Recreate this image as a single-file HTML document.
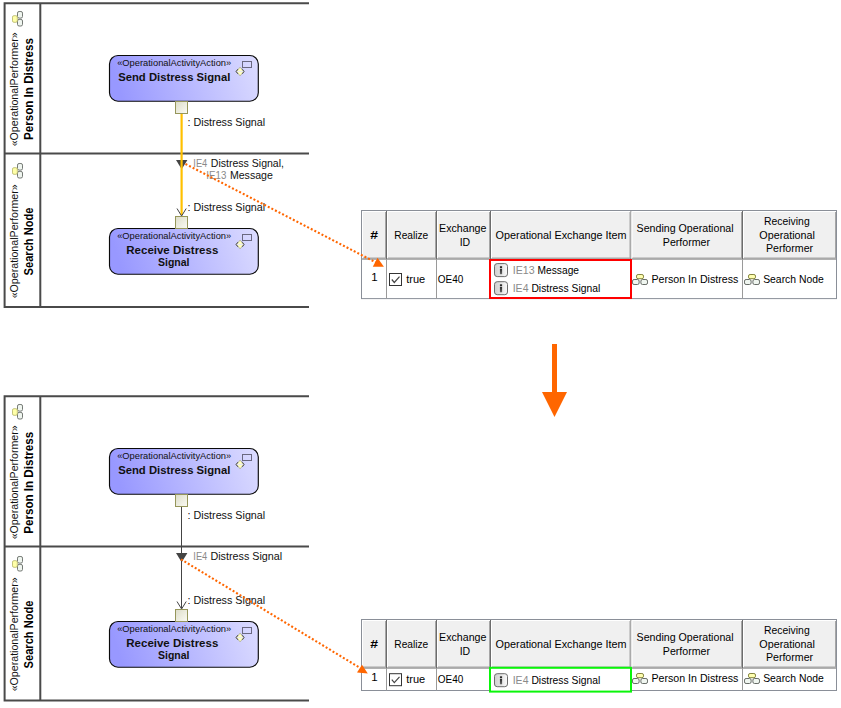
<!DOCTYPE html>
<html><head><meta charset="utf-8"><title>Diagram</title>
<style>
html,body{margin:0;padding:0;background:#fff;}
body{width:841px;height:708px;position:relative;overflow:hidden;font-family:"Liberation Sans",sans-serif;}
</style></head><body>
<svg width="841" height="708" viewBox="0 0 841 708" style="position:absolute;left:0;top:0;font-family:'Liberation Sans',sans-serif"><defs>
<linearGradient id="ag" x1="0" y1="0.1" x2="1" y2="0"><stop offset="0" stop-color="#9898ff"/><stop offset="1" stop-color="#dcdcff"/></linearGradient>
<linearGradient id="pg" x1="0" y1="0" x2="1" y2="1"><stop offset="0" stop-color="#dcdcc8"/><stop offset="1" stop-color="#fbfbf4"/></linearGradient>
<linearGradient id="ig" x1="0" y1="0" x2="1" y2="0"><stop offset="0" stop-color="#cfcfcf"/><stop offset="1" stop-color="#fafafa"/></linearGradient>
<linearGradient id="sg" x1="0" y1="0" x2="0" y2="1"><stop offset="0" stop-color="#2a2a2a"/><stop offset="1" stop-color="#6a6a6a"/></linearGradient>
</defs><path d="M309 3.3 H4.6 V307 H309 M40.3 3.3 V307 M4.6 153.4 H309" fill="none" stroke="#4a4a4a" stroke-width="2"/><rect x="17.5" y="11.5" width="5" height="6.6" rx="1.6" fill="#f0f6f0" stroke="#747974" stroke-width="1"/><rect x="17.5" y="19.4" width="5" height="6.6" rx="1.6" fill="#f0f6f0" stroke="#747974" stroke-width="1"/><rect x="12.5" y="15.7" width="4.8" height="6.6" rx="1.4" fill="#ffffa8" stroke="#b4b464" stroke-width="0.8"/><rect x="17.5" y="163.5" width="5" height="6.6" rx="1.6" fill="#f0f6f0" stroke="#747974" stroke-width="1"/><rect x="17.5" y="171.4" width="5" height="6.6" rx="1.6" fill="#f0f6f0" stroke="#747974" stroke-width="1"/><rect x="12.5" y="167.7" width="4.8" height="6.6" rx="1.4" fill="#ffffa8" stroke="#b4b464" stroke-width="0.8"/><text transform="translate(17.7 146.3) rotate(-90)" font-size="11px" textLength="114" lengthAdjust="spacingAndGlyphs" fill="#111">«OperationalPerformer»</text><text transform="translate(32.8 140) rotate(-90)" font-size="12px" font-weight="bold" textLength="102" lengthAdjust="spacingAndGlyphs" fill="#000">Person In Distress</text><text transform="translate(17.7 298.3) rotate(-90)" font-size="11px" textLength="114" lengthAdjust="spacingAndGlyphs" fill="#111">«OperationalPerformer»</text><text transform="translate(32.8 275.4) rotate(-90)" font-size="12px" font-weight="bold" textLength="67.8" lengthAdjust="spacingAndGlyphs" fill="#000">Search Node</text><path d="M176 160 H187.4 L181.7 169.3 Z" fill="#444"/><path d="M181.6 113 V215" stroke="#ffc000" stroke-width="2.2"/><path d="M177 208.5 L181.6 216 L186.2 208.5" fill="none" stroke="#444" stroke-width="1"/><rect x="109.5" y="55.5" width="148.8" height="45.7" rx="8.5" fill="url(#ag)" stroke="#0a0a0a" stroke-width="1.15"/><text x="117.2" y="66.3" font-size="9px" textLength="114" lengthAdjust="spacingAndGlyphs" fill="#111">«OperationalActivityAction»</text><text x="118.2" y="80.6" font-size="11px" font-weight="bold" textLength="112.2" lengthAdjust="spacingAndGlyphs" fill="#111">Send Distress Signal</text><rect x="242.5" y="61.5" width="9" height="6" fill="none" stroke="#6a6880" stroke-width="1"/><path d="M240.1 67.2 L243.79999999999998 71.5 L240.1 75.8 L236.29999999999998 71.5 Z" fill="#ffffc0" stroke="#a0a07c" stroke-width="0.7"/><path d="M236.7 71.5 H243.5" stroke="#e8e8f2" stroke-width="1.1"/><path d="M237.79999999999998 69.2 L236.1 71.5 L237.79999999999998 73.8 M242.4 69.2 L244.0 71.5 L242.4 73.8" fill="none" stroke="#4a4a50" stroke-width="1"/><path d="M241.7 68.5 L242.8 67.5" stroke="#6a6880" stroke-width="0.8"/><rect x="109.5" y="228.5" width="148.8" height="45.7" rx="8.5" fill="url(#ag)" stroke="#0a0a0a" stroke-width="1.15"/><text x="117.2" y="239.3" font-size="9px" textLength="114" lengthAdjust="spacingAndGlyphs" fill="#111">«OperationalActivityAction»</text><text x="126.3" y="253.6" font-size="11px" font-weight="bold" textLength="92" lengthAdjust="spacingAndGlyphs" fill="#111">Receive Distress</text><text x="158" y="265.7" font-size="11px" font-weight="bold" textLength="31.5" lengthAdjust="spacingAndGlyphs" fill="#111">Signal</text><rect x="242.5" y="234.5" width="9" height="6" fill="none" stroke="#6a6880" stroke-width="1"/><path d="M240.1 240.2 L243.79999999999998 244.5 L240.1 248.8 L236.29999999999998 244.5 Z" fill="#ffffc0" stroke="#a0a07c" stroke-width="0.7"/><path d="M236.7 244.5 H243.5" stroke="#e8e8f2" stroke-width="1.1"/><path d="M237.79999999999998 242.2 L236.1 244.5 L237.79999999999998 246.8 M242.4 242.2 L244.0 244.5 L242.4 246.8" fill="none" stroke="#4a4a50" stroke-width="1"/><path d="M241.7 241.5 L242.8 240.5" stroke="#6a6880" stroke-width="0.8"/><rect x="175.5" y="101.5" width="12" height="12" fill="url(#pg)" stroke="#96965a" stroke-width="1"/><rect x="175.5" y="216.5" width="12" height="12" fill="url(#pg)" stroke="#96965a" stroke-width="1"/><text x="187.6" y="125.8" font-size="11px" textLength="77.6" lengthAdjust="spacingAndGlyphs" fill="#111">: Distress Signal</text><text x="187.6" y="210.6" font-size="11px" textLength="77.6" lengthAdjust="spacingAndGlyphs" fill="#111">: Distress Signal</text><text x="193.3" y="166.9" font-size="11px" textLength="14" lengthAdjust="spacingAndGlyphs" fill="#8a8a8a">IE4</text><text x="210.8" y="166.9" font-size="11px" textLength="73.2" lengthAdjust="spacingAndGlyphs" fill="#111">Distress Signal,</text><text x="206.3" y="178.7" font-size="11px" textLength="20" lengthAdjust="spacingAndGlyphs" fill="#8a8a8a">IE13</text><text x="229.9" y="178.7" font-size="11px" textLength="43" lengthAdjust="spacingAndGlyphs" fill="#111">Message</text><path d="M309 396.3 H4.6 V700.5 H309 M40.3 396.3 V700.5 M4.6 546.4 H309" fill="none" stroke="#4a4a4a" stroke-width="2"/><rect x="17.5" y="404.5" width="5" height="6.6" rx="1.6" fill="#f0f6f0" stroke="#747974" stroke-width="1"/><rect x="17.5" y="412.4" width="5" height="6.6" rx="1.6" fill="#f0f6f0" stroke="#747974" stroke-width="1"/><rect x="12.5" y="408.7" width="4.8" height="6.6" rx="1.4" fill="#ffffa8" stroke="#b4b464" stroke-width="0.8"/><rect x="17.5" y="556.5" width="5" height="6.6" rx="1.6" fill="#f0f6f0" stroke="#747974" stroke-width="1"/><rect x="17.5" y="564.4" width="5" height="6.6" rx="1.6" fill="#f0f6f0" stroke="#747974" stroke-width="1"/><rect x="12.5" y="560.7" width="4.8" height="6.6" rx="1.4" fill="#ffffa8" stroke="#b4b464" stroke-width="0.8"/><text transform="translate(17.7 539.3) rotate(-90)" font-size="11px" textLength="114" lengthAdjust="spacingAndGlyphs" fill="#111">«OperationalPerformer»</text><text transform="translate(32.8 533.8) rotate(-90)" font-size="12px" font-weight="bold" textLength="102" lengthAdjust="spacingAndGlyphs" fill="#000">Person In Distress</text><text transform="translate(17.7 691.3) rotate(-90)" font-size="11px" textLength="114" lengthAdjust="spacingAndGlyphs" fill="#111">«OperationalPerformer»</text><text transform="translate(32.8 668.4) rotate(-90)" font-size="12px" font-weight="bold" textLength="67.8" lengthAdjust="spacingAndGlyphs" fill="#000">Search Node</text><path d="M176 553 H187.4 L181.7 562.3 Z" fill="#444"/><path d="M181.5 506 V608" stroke="#444" stroke-width="1"/><path d="M177 601.5 L181.6 609 L186.2 601.5" fill="none" stroke="#444" stroke-width="1"/><rect x="109.5" y="448.5" width="148.8" height="45.7" rx="8.5" fill="url(#ag)" stroke="#0a0a0a" stroke-width="1.15"/><text x="117.2" y="459.3" font-size="9px" textLength="114" lengthAdjust="spacingAndGlyphs" fill="#111">«OperationalActivityAction»</text><text x="118.2" y="473.6" font-size="11px" font-weight="bold" textLength="112.2" lengthAdjust="spacingAndGlyphs" fill="#111">Send Distress Signal</text><rect x="242.5" y="454.5" width="9" height="6" fill="none" stroke="#6a6880" stroke-width="1"/><path d="M240.1 460.2 L243.79999999999998 464.5 L240.1 468.8 L236.29999999999998 464.5 Z" fill="#ffffc0" stroke="#a0a07c" stroke-width="0.7"/><path d="M236.7 464.5 H243.5" stroke="#e8e8f2" stroke-width="1.1"/><path d="M237.79999999999998 462.2 L236.1 464.5 L237.79999999999998 466.8 M242.4 462.2 L244.0 464.5 L242.4 466.8" fill="none" stroke="#4a4a50" stroke-width="1"/><path d="M241.7 461.5 L242.8 460.5" stroke="#6a6880" stroke-width="0.8"/><rect x="109.5" y="621.5" width="148.8" height="45.7" rx="8.5" fill="url(#ag)" stroke="#0a0a0a" stroke-width="1.15"/><text x="117.2" y="632.3" font-size="9px" textLength="114" lengthAdjust="spacingAndGlyphs" fill="#111">«OperationalActivityAction»</text><text x="126.3" y="646.6" font-size="11px" font-weight="bold" textLength="92" lengthAdjust="spacingAndGlyphs" fill="#111">Receive Distress</text><text x="158" y="658.7" font-size="11px" font-weight="bold" textLength="31.5" lengthAdjust="spacingAndGlyphs" fill="#111">Signal</text><rect x="242.5" y="627.5" width="9" height="6" fill="none" stroke="#6a6880" stroke-width="1"/><path d="M240.1 633.2 L243.79999999999998 637.5 L240.1 641.8 L236.29999999999998 637.5 Z" fill="#ffffc0" stroke="#a0a07c" stroke-width="0.7"/><path d="M236.7 637.5 H243.5" stroke="#e8e8f2" stroke-width="1.1"/><path d="M237.79999999999998 635.2 L236.1 637.5 L237.79999999999998 639.8 M242.4 635.2 L244.0 637.5 L242.4 639.8" fill="none" stroke="#4a4a50" stroke-width="1"/><path d="M241.7 634.5 L242.8 633.5" stroke="#6a6880" stroke-width="0.8"/><rect x="175.5" y="494.5" width="12" height="12" fill="url(#pg)" stroke="#96965a" stroke-width="1"/><rect x="175.5" y="609.5" width="12" height="12" fill="url(#pg)" stroke="#96965a" stroke-width="1"/><text x="187.6" y="518.8" font-size="11px" textLength="77.6" lengthAdjust="spacingAndGlyphs" fill="#111">: Distress Signal</text><text x="187.6" y="603.6" font-size="11px" textLength="77.6" lengthAdjust="spacingAndGlyphs" fill="#111">: Distress Signal</text><text x="193.3" y="559.9" font-size="11px" textLength="14" lengthAdjust="spacingAndGlyphs" fill="#8a8a8a">IE4</text><text x="210.4" y="559.9" font-size="11px" textLength="71.8" lengthAdjust="spacingAndGlyphs" fill="#111">Distress Signal</text><rect x="361.5" y="210.5" width="475.0" height="88.10000000000002" fill="#fff"/><rect x="362.0" y="211.0" width="25.0" height="48.5" fill="#f0f0f0"/><path d="M362.5 259.5 V211.5 H387.0" fill="none" stroke="#ffffff" stroke-width="1"/><path d="M386.5 211.0 V259.0 H362.0" fill="none" stroke="#6c6c6c" stroke-width="1"/><path d="M385.5 212.0 V258.0 H363.0" fill="none" stroke="#a6a6a6" stroke-width="1"/><rect x="387.0" y="211.0" width="50.0" height="48.5" fill="#f0f0f0"/><path d="M387.5 259.5 V211.5 H437.0" fill="none" stroke="#ffffff" stroke-width="1"/><path d="M436.5 211.0 V259.0 H387.0" fill="none" stroke="#6c6c6c" stroke-width="1"/><path d="M435.5 212.0 V258.0 H388.0" fill="none" stroke="#a6a6a6" stroke-width="1"/><rect x="437.0" y="211.0" width="54.0" height="48.5" fill="#f0f0f0"/><path d="M437.5 259.5 V211.5 H491.0" fill="none" stroke="#ffffff" stroke-width="1"/><path d="M490.5 211.0 V259.0 H437.0" fill="none" stroke="#6c6c6c" stroke-width="1"/><path d="M489.5 212.0 V258.0 H438.0" fill="none" stroke="#a6a6a6" stroke-width="1"/><rect x="491.0" y="211.0" width="140.5" height="48.5" fill="#f0f0f0"/><path d="M491.5 259.5 V211.5 H631.5" fill="none" stroke="#ffffff" stroke-width="1"/><path d="M631.0 211.0 V259.0 H491.0" fill="none" stroke="#6c6c6c" stroke-width="1"/><path d="M630.0 212.0 V258.0 H492.0" fill="none" stroke="#a6a6a6" stroke-width="1"/><rect x="631.5" y="211.0" width="111.5" height="48.5" fill="#f0f0f0"/><path d="M632.0 259.5 V211.5 H743.0" fill="none" stroke="#ffffff" stroke-width="1"/><path d="M742.5 211.0 V259.0 H631.5" fill="none" stroke="#6c6c6c" stroke-width="1"/><path d="M741.5 212.0 V258.0 H632.5" fill="none" stroke="#a6a6a6" stroke-width="1"/><rect x="743.0" y="211.0" width="94.0" height="48.5" fill="#f0f0f0"/><path d="M743.5 259.5 V211.5 H837.0" fill="none" stroke="#ffffff" stroke-width="1"/><path d="M836.5 211.0 V259.0 H743.0" fill="none" stroke="#6c6c6c" stroke-width="1"/><path d="M835.5 212.0 V258.0 H744.0" fill="none" stroke="#a6a6a6" stroke-width="1"/><rect x="361.5" y="210.5" width="475.0" height="88.10000000000002" fill="none" stroke="#8a8f98" stroke-width="1"/><path d="M386.5 259.0 V298.6" stroke="#9a9a9a" stroke-width="1"/><path d="M436.5 259.0 V298.6" stroke="#9a9a9a" stroke-width="1"/><path d="M490.5 259.0 V298.6" stroke="#9a9a9a" stroke-width="1"/><path d="M631 259.0 V298.6" stroke="#9a9a9a" stroke-width="1"/><path d="M742.5 259.0 V298.6" stroke="#9a9a9a" stroke-width="1"/><text x="370.2" y="238.75" font-size="11.5px" font-weight="bold" textLength="7.8" lengthAdjust="spacingAndGlyphs" fill="#000">#</text><text x="394.3" y="238.75" font-size="11.5px" fill="#000" text-anchor="start" textLength="34" lengthAdjust="spacingAndGlyphs">Realize</text><text x="439.1" y="231.75" font-size="11.5px" fill="#000" text-anchor="start" textLength="47.3" lengthAdjust="spacingAndGlyphs">Exchange</text><text x="459.7" y="245.75" font-size="11.5px" fill="#000" text-anchor="start" textLength="10.5" lengthAdjust="spacingAndGlyphs">ID</text><text x="495.6" y="239.05" font-size="11.5px" fill="#000" text-anchor="start" textLength="131" lengthAdjust="spacingAndGlyphs">Operational Exchange Item</text><text x="636.6" y="231.75" font-size="11.5px" fill="#000" text-anchor="start" textLength="97" lengthAdjust="spacingAndGlyphs">Sending Operational</text><text x="662.8" y="245.75" font-size="11.5px" fill="#000" text-anchor="start" textLength="47.2" lengthAdjust="spacingAndGlyphs">Performer</text><text x="764" y="225.05" font-size="11.5px" fill="#000" text-anchor="start" textLength="45.7" lengthAdjust="spacingAndGlyphs">Receiving</text><text x="759.3" y="238.75" font-size="11.5px" fill="#000" text-anchor="start" textLength="55.7" lengthAdjust="spacingAndGlyphs">Operational</text><text x="765.9" y="252.45" font-size="11.5px" fill="#000" text-anchor="start" textLength="47.2" lengthAdjust="spacingAndGlyphs">Performer</text><text x="371.2" y="281.0" font-size="11.5px" fill="#000" text-anchor="start">1</text><rect x="389.5" y="273.5" width="12" height="12" fill="#fff" stroke="#333" stroke-width="1"/><path d="M391.8 279.5 L394.3 282.5 L399.5 276.7" fill="none" stroke="#444" stroke-width="1.2"/><text x="406.2" y="283.0" font-size="11.5px" fill="#000" text-anchor="start" textLength="19" lengthAdjust="spacingAndGlyphs">true</text><text x="437.8" y="283.0" font-size="11.5px" fill="#000" text-anchor="start" textLength="25.5" lengthAdjust="spacingAndGlyphs">OE40</text><rect x="632.5" y="279.5" width="6.6" height="5" rx="1.6" fill="#f0f6f0" stroke="#666b66" stroke-width="1"/><rect x="640.9" y="279.5" width="6.6" height="5" rx="1.6" fill="#f0f6f0" stroke="#666b66" stroke-width="1"/><rect x="636.5" y="274.5" width="7" height="4.2" rx="1.6" fill="#ffffb0" stroke="#84843e" stroke-width="1"/><text x="651.5" y="283.0" font-size="11.5px" fill="#000" text-anchor="start" textLength="86.8" lengthAdjust="spacingAndGlyphs">Person In Distress</text><rect x="744.5" y="279.5" width="6.6" height="5" rx="1.6" fill="#f0f6f0" stroke="#666b66" stroke-width="1"/><rect x="752.9" y="279.5" width="6.6" height="5" rx="1.6" fill="#f0f6f0" stroke="#666b66" stroke-width="1"/><rect x="748.5" y="274.5" width="7" height="4.2" rx="1.6" fill="#ffffb0" stroke="#84843e" stroke-width="1"/><text x="763.2" y="283.0" font-size="11.5px" fill="#000" text-anchor="start" textLength="60.5" lengthAdjust="spacingAndGlyphs">Search Node</text><rect x="490" y="260.0" width="141" height="38" fill="#fff" stroke="#ff0000" stroke-width="2"/><rect x="494.5" y="263.6" width="13" height="13" rx="2.7" fill="url(#ig)" stroke="#6c6c6c" stroke-width="1"/><rect x="499.9" y="266.20000000000005" width="2.2" height="1.9" fill="#2a2a2a"/><rect x="499.9" y="268.8" width="2.2" height="5.4" fill="url(#sg)"/><text x="512.7" y="274.3" font-size="11.5px" fill="#8a8a8a" text-anchor="start" textLength="21.9" lengthAdjust="spacingAndGlyphs">IE13</text><text x="537.6" y="274.3" font-size="11.5px" fill="#000" text-anchor="start" textLength="41.4" lengthAdjust="spacingAndGlyphs">Message</text><rect x="494.5" y="281.7" width="13" height="13" rx="2.7" fill="url(#ig)" stroke="#6c6c6c" stroke-width="1"/><rect x="499.9" y="284.3" width="2.2" height="1.9" fill="#2a2a2a"/><rect x="499.9" y="286.9" width="2.2" height="5.4" fill="url(#sg)"/><text x="512.7" y="292.2" font-size="11.5px" fill="#8a8a8a" text-anchor="start" textLength="15.8" lengthAdjust="spacingAndGlyphs">IE4</text><text x="531.4" y="292.2" font-size="11.5px" fill="#000" text-anchor="start" textLength="68.8" lengthAdjust="spacingAndGlyphs">Distress Signal</text><rect x="361.5" y="619.5" width="475.0" height="71.0" fill="#fff"/><rect x="362.0" y="620.0" width="25.0" height="48.5" fill="#f0f0f0"/><path d="M362.5 668.5 V620.5 H387.0" fill="none" stroke="#ffffff" stroke-width="1"/><path d="M386.5 620.0 V668.0 H362.0" fill="none" stroke="#6c6c6c" stroke-width="1"/><path d="M385.5 621.0 V667.0 H363.0" fill="none" stroke="#a6a6a6" stroke-width="1"/><rect x="387.0" y="620.0" width="50.0" height="48.5" fill="#f0f0f0"/><path d="M387.5 668.5 V620.5 H437.0" fill="none" stroke="#ffffff" stroke-width="1"/><path d="M436.5 620.0 V668.0 H387.0" fill="none" stroke="#6c6c6c" stroke-width="1"/><path d="M435.5 621.0 V667.0 H388.0" fill="none" stroke="#a6a6a6" stroke-width="1"/><rect x="437.0" y="620.0" width="54.0" height="48.5" fill="#f0f0f0"/><path d="M437.5 668.5 V620.5 H491.0" fill="none" stroke="#ffffff" stroke-width="1"/><path d="M490.5 620.0 V668.0 H437.0" fill="none" stroke="#6c6c6c" stroke-width="1"/><path d="M489.5 621.0 V667.0 H438.0" fill="none" stroke="#a6a6a6" stroke-width="1"/><rect x="491.0" y="620.0" width="140.5" height="48.5" fill="#f0f0f0"/><path d="M491.5 668.5 V620.5 H631.5" fill="none" stroke="#ffffff" stroke-width="1"/><path d="M631.0 620.0 V668.0 H491.0" fill="none" stroke="#6c6c6c" stroke-width="1"/><path d="M630.0 621.0 V667.0 H492.0" fill="none" stroke="#a6a6a6" stroke-width="1"/><rect x="631.5" y="620.0" width="111.5" height="48.5" fill="#f0f0f0"/><path d="M632.0 668.5 V620.5 H743.0" fill="none" stroke="#ffffff" stroke-width="1"/><path d="M742.5 620.0 V668.0 H631.5" fill="none" stroke="#6c6c6c" stroke-width="1"/><path d="M741.5 621.0 V667.0 H632.5" fill="none" stroke="#a6a6a6" stroke-width="1"/><rect x="743.0" y="620.0" width="94.0" height="48.5" fill="#f0f0f0"/><path d="M743.5 668.5 V620.5 H837.0" fill="none" stroke="#ffffff" stroke-width="1"/><path d="M836.5 620.0 V668.0 H743.0" fill="none" stroke="#6c6c6c" stroke-width="1"/><path d="M835.5 621.0 V667.0 H744.0" fill="none" stroke="#a6a6a6" stroke-width="1"/><rect x="361.5" y="619.5" width="475.0" height="71.0" fill="none" stroke="#8a8f98" stroke-width="1"/><path d="M386.5 668.0 V690.5" stroke="#9a9a9a" stroke-width="1"/><path d="M436.5 668.0 V690.5" stroke="#9a9a9a" stroke-width="1"/><path d="M490.5 668.0 V690.5" stroke="#9a9a9a" stroke-width="1"/><path d="M631 668.0 V690.5" stroke="#9a9a9a" stroke-width="1"/><path d="M742.5 668.0 V690.5" stroke="#9a9a9a" stroke-width="1"/><text x="370.2" y="647.75" font-size="11.5px" font-weight="bold" textLength="7.8" lengthAdjust="spacingAndGlyphs" fill="#000">#</text><text x="394.3" y="647.75" font-size="11.5px" fill="#000" text-anchor="start" textLength="34" lengthAdjust="spacingAndGlyphs">Realize</text><text x="439.1" y="640.75" font-size="11.5px" fill="#000" text-anchor="start" textLength="47.3" lengthAdjust="spacingAndGlyphs">Exchange</text><text x="459.7" y="654.75" font-size="11.5px" fill="#000" text-anchor="start" textLength="10.5" lengthAdjust="spacingAndGlyphs">ID</text><text x="495.6" y="648.05" font-size="11.5px" fill="#000" text-anchor="start" textLength="131" lengthAdjust="spacingAndGlyphs">Operational Exchange Item</text><text x="636.6" y="640.75" font-size="11.5px" fill="#000" text-anchor="start" textLength="97" lengthAdjust="spacingAndGlyphs">Sending Operational</text><text x="662.8" y="654.75" font-size="11.5px" fill="#000" text-anchor="start" textLength="47.2" lengthAdjust="spacingAndGlyphs">Performer</text><text x="764" y="634.05" font-size="11.5px" fill="#000" text-anchor="start" textLength="45.7" lengthAdjust="spacingAndGlyphs">Receiving</text><text x="759.3" y="647.75" font-size="11.5px" fill="#000" text-anchor="start" textLength="55.7" lengthAdjust="spacingAndGlyphs">Operational</text><text x="765.9" y="661.45" font-size="11.5px" fill="#000" text-anchor="start" textLength="47.2" lengthAdjust="spacingAndGlyphs">Performer</text><text x="371.2" y="681.4" font-size="11.5px" fill="#000" text-anchor="start">1</text><rect x="389.5" y="673.7" width="12" height="12" fill="#fff" stroke="#333" stroke-width="1"/><path d="M391.8 679.7 L394.3 682.7 L399.5 676.9000000000001" fill="none" stroke="#444" stroke-width="1.2"/><text x="406.2" y="683.2" font-size="11.5px" fill="#000" text-anchor="start" textLength="19" lengthAdjust="spacingAndGlyphs">true</text><text x="437.8" y="683.2" font-size="11.5px" fill="#000" text-anchor="start" textLength="25.5" lengthAdjust="spacingAndGlyphs">OE40</text><rect x="632.5" y="678.5" width="6.6" height="5" rx="1.6" fill="#f0f6f0" stroke="#666b66" stroke-width="1"/><rect x="640.9" y="678.5" width="6.6" height="5" rx="1.6" fill="#f0f6f0" stroke="#666b66" stroke-width="1"/><rect x="636.5" y="673.5" width="7" height="4.2" rx="1.6" fill="#ffffb0" stroke="#84843e" stroke-width="1"/><text x="651.5" y="682.1" font-size="11.5px" fill="#000" text-anchor="start" textLength="86.8" lengthAdjust="spacingAndGlyphs">Person In Distress</text><rect x="744.5" y="678.5" width="6.6" height="5" rx="1.6" fill="#f0f6f0" stroke="#666b66" stroke-width="1"/><rect x="752.9" y="678.5" width="6.6" height="5" rx="1.6" fill="#f0f6f0" stroke="#666b66" stroke-width="1"/><rect x="748.5" y="673.5" width="7" height="4.2" rx="1.6" fill="#ffffb0" stroke="#84843e" stroke-width="1"/><text x="763.2" y="682.1" font-size="11.5px" fill="#000" text-anchor="start" textLength="60.5" lengthAdjust="spacingAndGlyphs">Search Node</text><rect x="490" y="667.8" width="141" height="23.8" fill="#fff" stroke="#0af50a" stroke-width="2"/><rect x="494.5" y="673.7" width="13" height="13" rx="2.7" fill="url(#ig)" stroke="#6c6c6c" stroke-width="1"/><rect x="499.9" y="676.3000000000001" width="2.2" height="1.9" fill="#2a2a2a"/><rect x="499.9" y="678.9000000000001" width="2.2" height="5.4" fill="url(#sg)"/><text x="512.7" y="683.7" font-size="11.5px" fill="#8a8a8a" text-anchor="start" textLength="15.8" lengthAdjust="spacingAndGlyphs">IE4</text><text x="531.4" y="683.7" font-size="11.5px" fill="#000" text-anchor="start" textLength="68.8" lengthAdjust="spacingAndGlyphs">Distress Signal</text><path d="M552 344 H557 V392 H567 L554.5 417 L542 392 H552 Z" fill="#ff6600"/><path d="M185.5 164 L376 262.5" stroke="#ff6600" stroke-width="2.1" stroke-dasharray="2 2.03" fill="none"/><path d="M377.5 257.8 L372.8 266.7 L383.9 266.7 Z" fill="#ff6600"/><path d="M181 559.3 L360 667.9" stroke="#ff6600" stroke-width="2.1" stroke-dasharray="2 2.03" fill="none"/><path d="M362 664.8 L357 672.5 L367.8 673.5 Z" fill="#ff6600"/></svg>
</body></html>
